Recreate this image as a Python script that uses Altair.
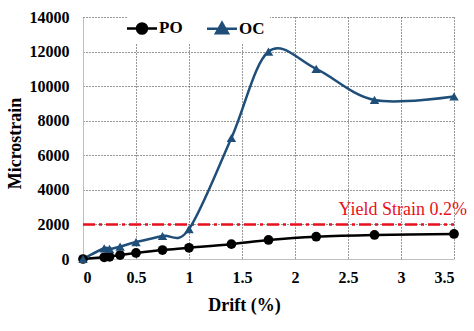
import altair as alt
import pandas as pd

drift = [0, 0.2, 0.25, 0.35, 0.5, 0.75, 1.0, 1.4, 1.75, 2.2, 2.75, 3.5]
po = [0, 100, 130, 230, 350, 520, 650, 860, 1100, 1290, 1390, 1450]
oc = [0, 620, 580, 720, 980, 1330, 1730, 7000, 12000, 11000, 9200, 9400]
series = ["PO", "OC"]
colors = ["#000000", "#1F4E79"]
shapes = ["circle", "triangle-up"]
x_ticks = [0, 0.5, 1, 1.5, 2, 2.5, 3, 3.5]
y_ticks = [0, 2000, 4000, 6000, 8000, 10000, 12000, 14000]
yield_val = 2000
yield_label = "Yield Strain 0.2%"

rows = []
for d, p, o in zip(drift, po, oc):
    rows.append({"drift": d, "strain": p, "series": "PO"})
    rows.append({"drift": d, "strain": o, "series": "OC"})
df = pd.DataFrame(rows)

xs = alt.Scale(domain=[0, 3.5], nice=False, zero=False)
ys = alt.Scale(domain=[0, 14000], nice=False)
cs = alt.Scale(domain=series, range=colors)

serif = "Liberation Serif"

x_axis = alt.Axis(
    values=x_ticks, format="~g", title="Drift (%)", grid=True,
    gridDash=[1, 2], gridColor="#333", domainColor="#BFBFBF", ticks=False,
    labelFont=serif, labelFontSize=16, labelFontWeight="bold", labelColor="black",
    labelPadding=10, titleFont=serif, titleFontSize=18, titleFontWeight="bold",
    titleColor="black", titleX=161, titleY=46, titleBaseline="middle", titleAlign="center")
y_axis = alt.Axis(
    values=y_ticks, format="d", title="Microstrain", grid=True,
    gridDash=[1, 2], gridColor="#333", domainColor="#BFBFBF", ticks=False,
    labelFont=serif, labelFontSize=16, labelFontWeight="bold", labelColor="black",
    labelPadding=14, labelOverlap=False, titleFont=serif, titleFontSize=18, titleFontWeight="bold",
    titleColor="black", titleX=-68, titleY=126, titleAngle=-90,
    titleBaseline="middle", titleAlign="center")


def X(f):
    return alt.X(f, scale=xs, axis=x_axis)


def Y(f):
    return alt.Y(f, scale=ys, axis=y_axis)


base = alt.Chart(df)

layers = []
for s, c, sh in zip(series, colors, shapes):
    sub = base.transform_filter(alt.datum.series == s)
    layers.append(sub.mark_line(interpolate="cardinal", strokeWidth=2.5, color=c).encode(
        x=X("drift:Q"), y=Y("strain:Q")))
for s, c, sh in zip(series, colors, shapes):
    sub = base.transform_filter(alt.datum.series == s)
    layers.append(sub.mark_point(filled=True, size=95 if sh == "circle" else 90,
                                 opacity=1, shape=sh, color=c).encode(
        x=X("drift:Q"), y=Y("strain:Q")))

leg_paths = [
    "M-2,0H2M0.67,0A0.67,0.67,0,1,1,-0.67,0A0.67,0.67,0,1,1,0.67,0Z",
    "M-2,0H2M0,-0.8L0.8,0.6L-0.8,0.6Z",
]
leg = base.mark_point(opacity=1, strokeWidth=2.5, filled=True).encode(
    x=X("drift:Q"), y=Y("strain:Q"),
    fill=alt.Fill("series:N", scale=cs, legend=alt.Legend(title=None)),
    stroke=alt.Stroke("series:N", scale=cs, legend=alt.Legend(title=None)),
    shape=alt.Shape("series:N", scale=alt.Scale(domain=series, range=leg_paths),
                    legend=alt.Legend(title=None)),
).transform_filter(alt.datum.drift < 0)

ydf = pd.DataFrame({"x0": [0], "x1": [3.5], "y": [yield_val], "label": [yield_label]})
yline = alt.Chart(ydf).mark_rule(color="#E8101C", strokeWidth=2.5, strokeDash=[12, 4, 3, 4]).encode(
    x=X("x0:Q"), x2="x1:Q", y=Y("y:Q"))
ytext = alt.Chart(ydf).mark_text(color="#E8101C", font=serif, fontSize=18, align="right",
                                 baseline="alphabetic", dx=13, dy=-9).encode(
    x=X("x1:Q"), y=Y("y:Q"), text="label:N")

chart = alt.layer(yline, *layers, leg, ytext).properties(
    width=371, height=242,
    autosize=alt.AutoSizeParams(type="none"),
    padding={"left": 83, "top": 17, "right": 20, "bottom": 72},
).configure_view(stroke=None).configure_legend(
    orient="none", legendX=45, legendY=-3, direction="horizontal",
    fillColor="white", padding=5, columnPadding=19, symbolSize=225,
    symbolStrokeWidth=2.5, labelOffset=8,
    labelFont=serif, labelFontSize=17, labelFontWeight="bold", labelColor="black",
)

chart.save("out.html", embed_options={"renderer": "svg", "actions": False})
